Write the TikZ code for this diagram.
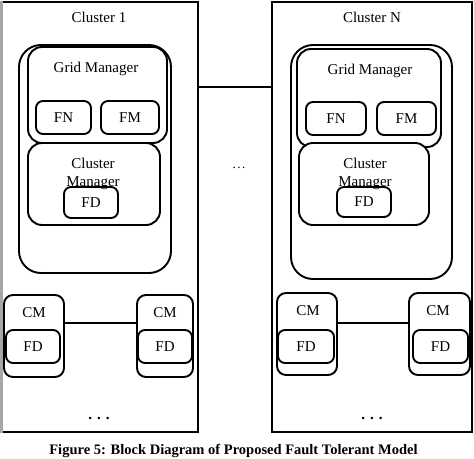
\documentclass[tikz,border=0pt]{standalone}
\usepackage{fontspec}
\setmainfont{Liberation Serif}
\begin{document}
\begin{tikzpicture}[x=1pt,y=-1pt,
  lw/.style={line width=1.9pt},
  cluster/.style={draw, lw, rectangle, inner sep=0pt},
  cont/.style={draw, lw, rounded corners=22pt, inner sep=0pt},
  mgr/.style={draw, lw, rounded corners=14pt, inner sep=0pt, fill=white},
  sbox/.style={draw, lw, rounded corners=7pt, inner sep=0pt, font=\fontsize{15}{17}\selectfont},
  cmbox/.style={draw, lw, rounded corners=9pt, inner sep=0pt},
  lbl/.style={inner sep=0pt, font=\fontsize{15}{17}\selectfont},
  conn/.style={lw}
]
\useasboundingbox (0,0) rectangle (474,458);
\clip (0,0) rectangle (474,458);

% ---------- Cluster 1 ----------
\node[cluster, minimum width=196pt, minimum height=430pt] (c1) at (100,217) {};
\draw[line width=3pt, gray!70] (1.5,1) -- (1.5,433);
\node[lbl] (c1t) at (99,17) {Cluster 1};
\node[cont, minimum width=152pt, minimum height=228pt] (ct1) at (95,159) {};
\node[mgr, minimum width=139pt, minimum height=96pt] (gm1) at (97.5,95) {};
\node[lbl] (gm1t) at (96,69) {Grid Manager};
\node[sbox, minimum width=55pt, minimum height=33pt] (fn1) at (63.5,117.5) {FN};
\node[sbox, minimum width=58pt, minimum height=33pt] (fm1) at (130,117.5) {FM};
\node[mgr, minimum width=132pt, minimum height=82pt] (cmg1) at (94,184) {};
\node[lbl, align=center, font=\fontsize{15}{18}\selectfont] (cmg1t) at (93,174) {Cluster\\Manager};
\node[sbox, minimum width=54pt, minimum height=31pt] (fd1) at (91,202.5) {FD};

\node[cmbox, minimum width=60pt, minimum height=82pt] (cma) at (34,336) {};
\node[lbl] (cmat) at (34,313) {CM};
\node[sbox, minimum width=54pt, minimum height=33pt] (fda) at (33,346.5) {FD};
\node[cmbox, minimum width=56pt, minimum height=82pt] (cmb) at (165,336) {};
\node[lbl] (cmbt) at (165,313) {CM};
\node[sbox, minimum width=54pt, minimum height=33pt] (fdb) at (165,346.5) {FD};
\coordinate (la) at (cma.east |- 0,323);
\coordinate (lb) at (cmb.west |- 0,323);
\draw[conn] (la) -- (lb);
\node[lbl, font=\bfseries\fontsize{15}{17}\selectfont] (dots1) at (99,418) {.\,\,.\,\,.};

% ---------- Cluster N ----------
\node[cluster, minimum width=200pt, minimum height=430pt] (c2) at (372,217) {};
\node[lbl] (c2t) at (372,17) {Cluster N};
\node[cont, minimum width=161pt, minimum height=234pt] (ct2) at (371.5,162) {};
\node[mgr, minimum width=144pt, minimum height=98pt] (gm2) at (369,98) {};
\node[lbl] (gm2t) at (370,71) {Grid Manager};
\node[sbox, minimum width=60pt, minimum height=33pt] (fn2) at (336,118.5) {FN};
\node[sbox, minimum width=59pt, minimum height=33pt] (fm2) at (406.5,118.5) {FM};
\node[mgr, minimum width=130pt, minimum height=82pt] (cmg2) at (364,184) {};
\node[lbl, align=center, font=\fontsize{15}{18}\selectfont] (cmg2t) at (365,174) {Cluster\\Manager};
\node[sbox, minimum width=54pt, minimum height=30pt] (fd2) at (364,202) {FD};

\node[cmbox, minimum width=60pt, minimum height=82pt] (cmc) at (307,334) {};
\node[lbl] (cmct) at (308,311) {CM};
\node[sbox, minimum width=56pt, minimum height=33pt] (fdc) at (306,346.5) {FD};
\node[cmbox, minimum width=61pt, minimum height=82pt] (cmd) at (439.5,334) {};
\node[lbl] (cmdt) at (438,311) {CM};
\node[sbox, minimum width=55pt, minimum height=33pt] (fdd) at (440.5,346.5) {FD};
\coordinate (lc) at (cmc.east |- 0,323);
\coordinate (ld) at (cmd.west |- 0,323);
\draw[conn] (lc) -- (ld);
\node[lbl, font=\bfseries\fontsize{15}{17}\selectfont] (dots2) at (372,418) {.\,\,.\,\,.};

% ---------- between clusters ----------
\coordinate (m1) at (c1.east |- 0,87);
\coordinate (m2) at (c2.west |- 0,87);
\draw[conn] (m1) -- (m2);
\node[lbl, font=\fontsize{13}{15}\selectfont] (mdots) at (239,168) {.\kern1.5pt.\kern1.5pt.};

% ---------- caption ----------
\node[anchor=base, inner sep=0pt, font=\bfseries\fontsize{14.5}{17}\selectfont] (cap) at (233.5,454) {Figure 5: Block Diagram of Proposed Fault Tolerant Model};
\end{tikzpicture}
\end{document}
